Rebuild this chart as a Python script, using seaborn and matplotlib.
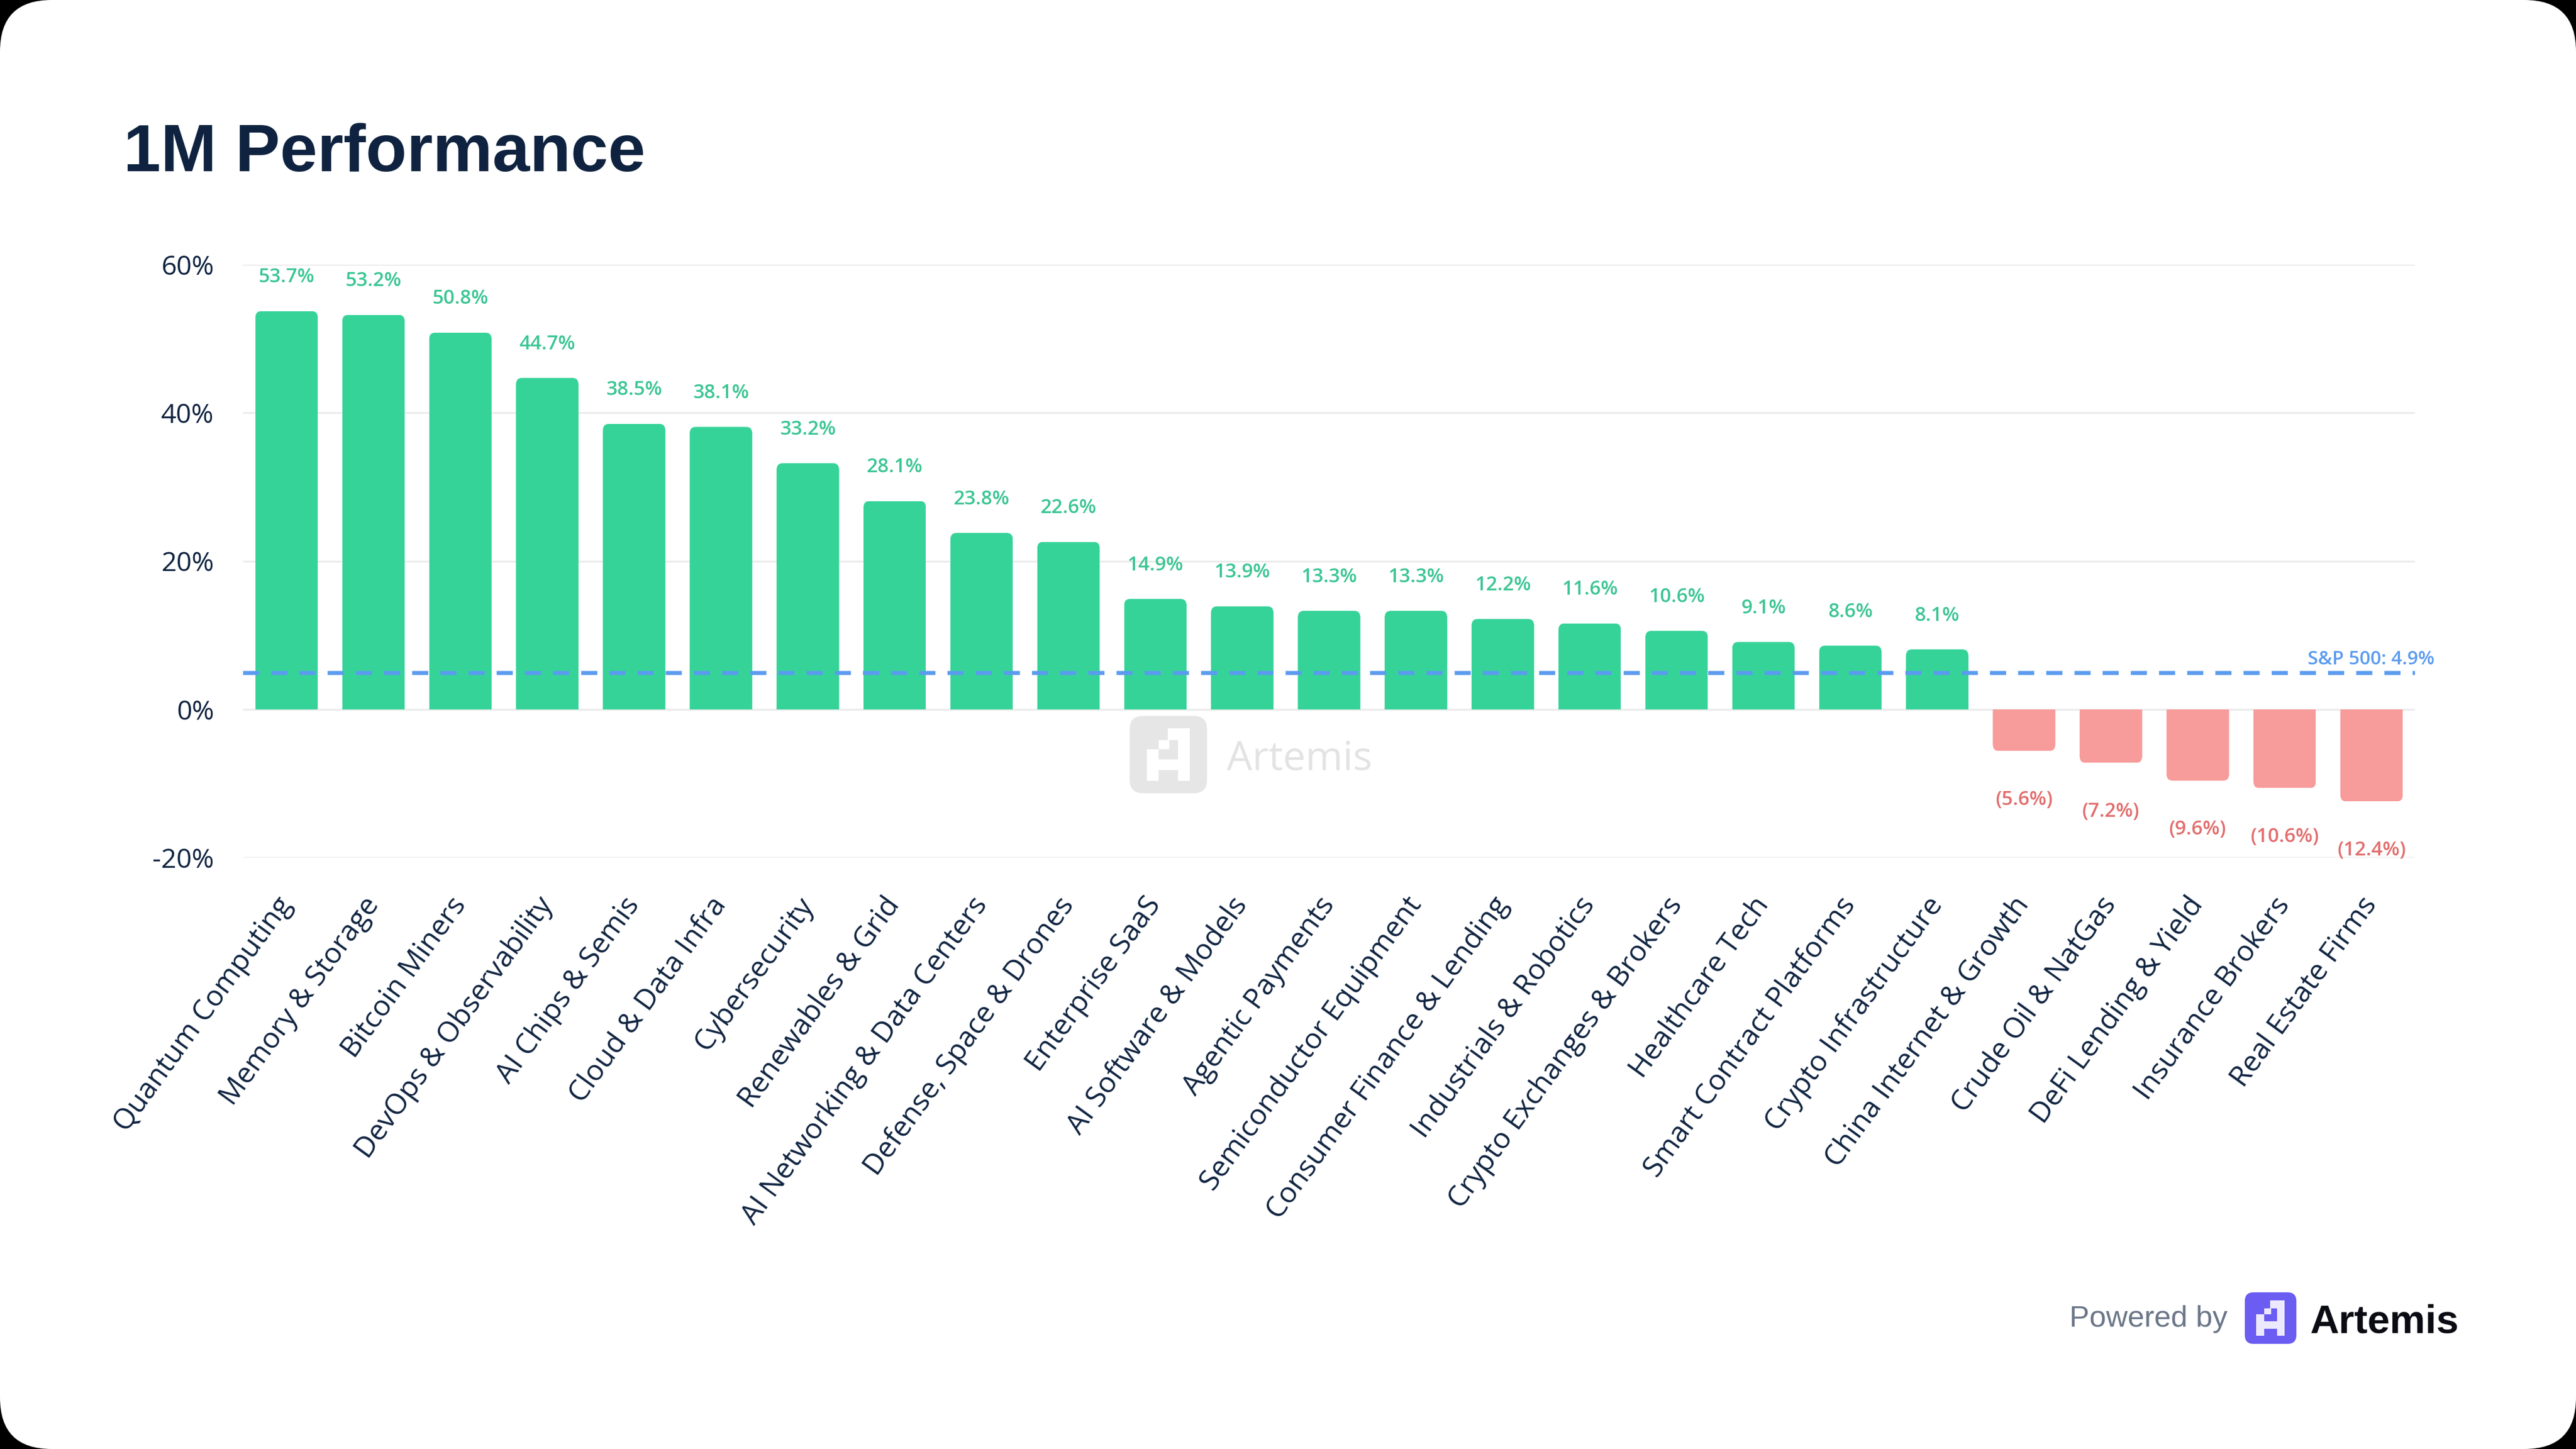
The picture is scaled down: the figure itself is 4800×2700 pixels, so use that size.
import pandas as pd
import seaborn as sns
import matplotlib.pyplot as plt
from matplotlib.patches import FancyBboxPatch, Rectangle

# Data
sectors = [
    "Quantum Computing", "Memory & Storage", "Bitcoin Miners", "DevOps & Observability",
    "AI Chips & Semis", "Cloud & Data Infra", "Cybersecurity", "Renewables & Grid",
    "AI Networking & Data Centers", "Defense, Space & Drones", "Enterprise SaaS",
    "AI Software & Models", "Agentic Payments", "Semiconductor Equipment",
    "Consumer Finance & Lending", "Industrials & Robotics", "Crypto Exchanges & Brokers",
    "Healthcare Tech", "Smart Contract Platforms", "Crypto Infrastructure",
    "China Internet & Growth", "Crude Oil & NatGas", "DeFi Lending & Yield",
    "Insurance Brokers", "Real Estate Firms",
]
returns = [53.7, 53.2, 50.8, 44.7, 38.5, 38.1, 33.2, 28.1, 23.8, 22.6, 14.9, 13.9, 13.3,
           13.3, 12.2, 11.6, 10.6, 9.1, 8.6, 8.1, -5.6, -7.2, -9.6, -10.6, -12.4]
sp500 = 4.9
yticks = [-20, 0, 20, 40, 60]

NAVY = "#0f2340"
GREEN = "#36d399"
GREEN_TXT = "#3cc594"
RED = "#f79b9b"
RED_TXT = "#e26d6d"
BLUE = "#5b9bef"

sns.set_theme(style="white")
plt.rcParams['font.family'] = ['Open Sans', 'DejaVu Sans']

df = pd.DataFrame({"sector": sectors, "ret": returns})
bar_colors = [GREEN if v >= 0 else RED for v in returns]

fig = plt.figure(figsize=(16, 9), dpi=300, facecolor="black")

# white rounded card on black
card = FancyBboxPatch((0, 0), 16, 9, boxstyle="round,pad=0,rounding_size=0.32",
                      transform=fig.dpi_scale_trans, facecolor="white",
                      edgecolor="none", zorder=-10)
fig.add_artist(card)

ax = fig.add_axes([0.0944, 0.408, 0.8431, 0.4095])
ax.set_facecolor("none")
sns.barplot(data=df, x="sector", y="ret", hue="sector", palette=bar_colors,
            legend=False, width=0.72, saturation=1, ax=ax)

# rounded ends on the bars
rx, ry = 0.07, 0.9
for p in list(ax.patches):
    x0, w = p.get_x(), p.get_width()
    y0, h = p.get_y(), p.get_height()
    lo, hi = min(y0, y0 + h), max(y0, y0 + h)
    if hi > 0:
        lo -= 2 * ry
    else:
        hi += 2 * ry
    rb = FancyBboxPatch((x0, lo), w, hi - lo,
                        boxstyle=f"round,pad=0,rounding_size={rx}",
                        mutation_aspect=ry / rx, facecolor=p.get_facecolor(),
                        edgecolor="none", zorder=2)
    ax.add_patch(rb)
    rb.set_clip_path(p)
    p.set_visible(False)

# value labels
for i, v in enumerate(returns):
    txt = f"{v:.1f}%" if v >= 0 else f"({abs(v):.1f}%)"
    ax.annotate(txt, (i, v), xytext=(0, 15 if v >= 0 else -22), textcoords="offset points",
                ha="center", va="center", fontsize=8.8, fontweight="semibold",
                color=GREEN_TXT if v >= 0 else RED_TXT)

# S&P 500 benchmark
ax.axhline(sp500, color=BLUE, lw=1.8, ls=(0, (4, 3)), zorder=4)
ax.text(1.009, sp500 + 0.6, f"S&P 500: {sp500}%", transform=ax.get_yaxis_transform(),
        ha="right", va="bottom", fontsize=8.5, fontweight="semibold", color=BLUE)

ax.set_xlim(-0.5, len(sectors) - 0.5)
ax.set_ylim(-20, 60)
ax.set_yticks(yticks)
ax.set_yticklabels([f"{t}%" for t in yticks])
ax.set_xlabel("")
ax.set_ylabel("")
ax.yaxis.grid(True, color="#ebebeb", lw=0.8)
ax.xaxis.grid(False)
ax.set_axisbelow(True)
sns.despine(ax=ax, left=True, bottom=True)
ax.tick_params(axis="y", length=0, pad=13, labelsize=12, labelcolor=NAVY)
ax.tick_params(axis="x", length=0, pad=19, labelsize=12.8, labelcolor=NAVY)
plt.setp(ax.get_xticklabels(), rotation=54, ha="right", va="center", rotation_mode="anchor")

# title
fig.text(0.048, 0.882, "1M Performance", fontsize=30, fontweight="bold",
         family=["Liberation Sans", "DejaVu Sans"], color=NAVY, va="baseline")


def draw_logo(x0, y0, s, bg, fg):
    box = FancyBboxPatch((x0, y0), s, s, boxstyle=f"round,pad=0,rounding_size={s * 0.17}",
                         transform=fig.dpi_scale_trans, facecolor=bg, edgecolor="none", zorder=1)
    fig.add_artist(box)
    blocks = [(0.627, 0.158, 0.776, 0.842), (0.491, 0.158, 0.627, 0.309),
              (0.373, 0.309, 0.512, 0.429), (0.224, 0.429, 0.373, 0.842),
              (0.373, 0.559, 0.627, 0.703)]
    for bx0, by0, bx1, by1 in blocks:
        r = Rectangle((x0 + bx0 * s, y0 + (1 - by1) * s), (bx1 - bx0) * s, (by1 - by0) * s,
                      transform=fig.dpi_scale_trans, facecolor=fg, edgecolor="none", zorder=2)
        fig.add_artist(r)


# watermark
draw_logo(7.017, 4.073, 0.48, "#e6e6e6", "white")
fig.text(7.62 / 16, 4.217 / 9, "Artemis", fontsize=18, color="#e3e3e3", va="baseline")

# footer
fig.text(12.853 / 16, 0.76 / 9, "Powered by", fontsize=13.4, color="#6b7688",
         family=["Liberation Sans", "DejaVu Sans"], va="baseline")
draw_logo(13.943, 0.653, 0.32, "#6b5cf2", "#ece9ff")
fig.text(14.347 / 16, 0.723 / 9, "Artemis", fontsize=17.9, fontweight="bold", color="#0b0b14",
         family=["Liberation Sans", "DejaVu Sans"], va="baseline")

fig.savefig("out.png", dpi=300, facecolor=fig.get_facecolor())
